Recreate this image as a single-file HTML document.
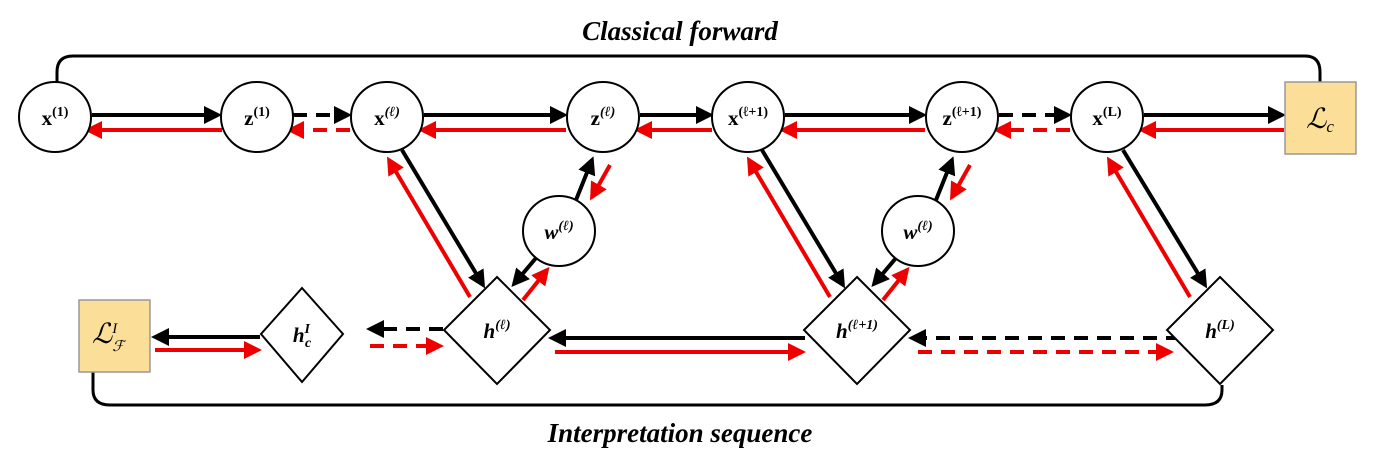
<!DOCTYPE html>
<html><head><meta charset="utf-8"><style>
html,body{margin:0;padding:0;background:#fff;}
svg{display:block;}
.n{fill:#fff;stroke:#000;stroke-width:2;}
.b{stroke:#000;stroke-width:4;fill:none;}
.r{stroke:#e00;stroke-width:4;fill:none;}
.d{stroke-dasharray:14,9;}
.t{font-family:"Liberation Serif",serif;font-weight:bold;font-size:21px;}
.s{font-size:14px;}
</style></head><body>
<svg width="1380" height="464" viewBox="0 0 1380 464" xmlns="http://www.w3.org/2000/svg">
<defs>
<marker id="ab" markerWidth="4.5" markerHeight="4.5" refX="3.5" refY="2.25" orient="auto" markerUnits="strokeWidth"><path d="M0,0 L4.5,2.25 L0,4.5z" fill="#000"/></marker>
<marker id="ar" markerWidth="4.5" markerHeight="4.5" refX="3.5" refY="2.25" orient="auto" markerUnits="strokeWidth"><path d="M0,0 L4.5,2.25 L0,4.5z" fill="#e00"/></marker>
</defs>
<text x="680" y="40" text-anchor="middle" font-family="Liberation Serif,serif" font-weight="bold" font-style="italic" font-size="27">Classical forward</text>
<text x="680" y="442" text-anchor="middle" font-family="Liberation Serif,serif" font-weight="bold" font-style="italic" font-size="27">Interpretation sequence</text>
<path d="M57,84 V72 Q57,56 73,56 H1305 Q1320,56 1320,72 V83" stroke="#000" stroke-width="3" fill="none"/>
<path d="M93,372 V390 Q93,405 110,405 H1205 Q1222,405 1222,390 V385" stroke="#000" stroke-width="3" fill="none"/>
<g class="b" marker-end="url(#ab)">
<line x1="92" y1="115" x2="218" y2="115"/>
<line x1="293" y1="115" x2="348" y2="115" class="b d"/>
<line x1="424" y1="115" x2="564" y2="115"/>
<line x1="640" y1="115" x2="710" y2="115"/>
<line x1="785" y1="115" x2="923" y2="115"/>
<line x1="999" y1="115" x2="1068" y2="115" class="b d"/>
<line x1="1144" y1="115" x2="1282" y2="115"/>
</g>
<g class="r" marker-end="url(#ar)">
<line x1="222" y1="130" x2="88" y2="130"/>
<line x1="350" y1="130" x2="290" y2="130" class="r d"/>
<line x1="566" y1="130" x2="422" y2="130"/>
<line x1="712" y1="130" x2="638" y2="130"/>
<line x1="925" y1="130" x2="783" y2="130"/>
<line x1="1070" y1="130" x2="997" y2="130" class="r d"/>
<line x1="1284" y1="130" x2="1142" y2="130"/>
</g>
<g class="b" marker-end="url(#ab)">
<line x1="402" y1="150" x2="483" y2="285"/>
<line x1="536" y1="258" x2="514" y2="284"/>
<line x1="576" y1="200" x2="592" y2="160"/>
<line x1="762" y1="150" x2="843" y2="285"/>
<line x1="896" y1="258" x2="874" y2="284"/>
<line x1="936" y1="200" x2="952" y2="160"/>
<line x1="1123" y1="150" x2="1205" y2="285"/>
</g>
<g class="r" marker-end="url(#ar)">
<line x1="470" y1="297" x2="389" y2="160"/>
<line x1="523" y1="300" x2="547" y2="270"/>
<line x1="610" y1="165" x2="592" y2="197"/>
<line x1="830" y1="297" x2="749" y2="160"/>
<line x1="883" y1="300" x2="907" y2="270"/>
<line x1="970" y1="165" x2="952" y2="197"/>
<line x1="1190" y1="297" x2="1109" y2="160"/>
</g>
<g class="b" marker-end="url(#ab)">
<line x1="260" y1="337" x2="155" y2="337"/>
<line x1="443" y1="329" x2="370" y2="329" class="b d"/>
<line x1="805" y1="338" x2="552" y2="338"/>
<line x1="1180" y1="338" x2="912" y2="338" class="b d"/>
</g>
<g class="r" marker-end="url(#ar)">
<line x1="155" y1="350" x2="258" y2="350"/>
<line x1="370" y1="346" x2="440" y2="346" class="r d"/>
<line x1="555" y1="352" x2="802" y2="352"/>
<line x1="918" y1="352" x2="1170" y2="352" class="r d"/>
</g>
<g class="n">
<ellipse cx="55" cy="117" rx="36" ry="35"/>
<ellipse cx="257" cy="117" rx="36" ry="35"/>
<ellipse cx="387" cy="117" rx="36" ry="35"/>
<ellipse cx="603" cy="117" rx="36" ry="35"/>
<ellipse cx="748" cy="117" rx="36" ry="35"/>
<ellipse cx="962" cy="117" rx="36" ry="35"/>
<ellipse cx="1107" cy="117" rx="36" ry="35"/>
<ellipse cx="559" cy="231" rx="36" ry="35"/>
<ellipse cx="918" cy="231" rx="36" ry="35"/>
<path d="M302,288 L343,334 L302,382 L261,334z"/>
<path d="M497,277 L550,330 L497,384 L444,330z"/>
<path d="M857,277 L910,330 L857,384 L804,330z"/>
<path d="M1220,277 L1273,330 L1220,384 L1167,330z"/>
</g>
<rect x="1285" y="82" width="71" height="72" fill="#fbdf98" stroke="#999" stroke-width="1.5"/>
<rect x="79" y="300" width="71" height="72" fill="#fbdf98" stroke="#999" stroke-width="1.5"/>
<g class="t" text-anchor="middle">
<text x="55" y="125">x<tspan class="s" dy="-9">(1)</tspan></text>
<text x="257" y="125">z<tspan class="s" dy="-9">(1)</tspan></text>
<text x="387" y="125">x<tspan class="s" dy="-9" font-style="italic">(ℓ)</tspan></text>
<text x="603" y="125">z<tspan class="s" dy="-9" font-style="italic">(ℓ)</tspan></text>
<text x="748" y="125">x<tspan class="s" dy="-9">(ℓ+1)</tspan></text>
<text x="962" y="125">z<tspan class="s" dy="-9">(ℓ+1)</tspan></text>
<text x="1107" y="125">x<tspan class="s" dy="-9">(L)</tspan></text>
<text x="559" y="239" font-style="italic">w<tspan class="s" dy="-9">(ℓ)</tspan></text>
<text x="918" y="239" font-style="italic">w<tspan class="s" dy="-9">(ℓ)</tspan></text>
<text x="302" y="342" font-style="italic">h<tspan class="s" dy="-9">I</tspan><tspan class="s" dx="-5" dy="14">c</tspan></text>
<text x="497" y="338" font-style="italic">h<tspan class="s" dy="-9">(ℓ)</tspan></text>
<text x="857" y="338" font-style="italic">h<tspan class="s" dy="-9">(ℓ+1)</tspan></text>
<text x="1220" y="338" font-style="italic">h<tspan class="s" dy="-9">(L)</tspan></text>
</g>
<text x="1320" y="128" text-anchor="middle" font-family="Liberation Serif,serif" font-style="italic" font-size="28">ℒ<tspan font-size="17" dy="4">c</tspan></text>
<text x="108" y="343" text-anchor="middle" font-family="Liberation Serif,serif" font-style="italic" font-size="28">ℒ<tspan font-size="15" dy="-10">I</tspan><tspan font-size="15" dx="-5" dy="18">ℱ</tspan></text>
</svg>
</body></html>
